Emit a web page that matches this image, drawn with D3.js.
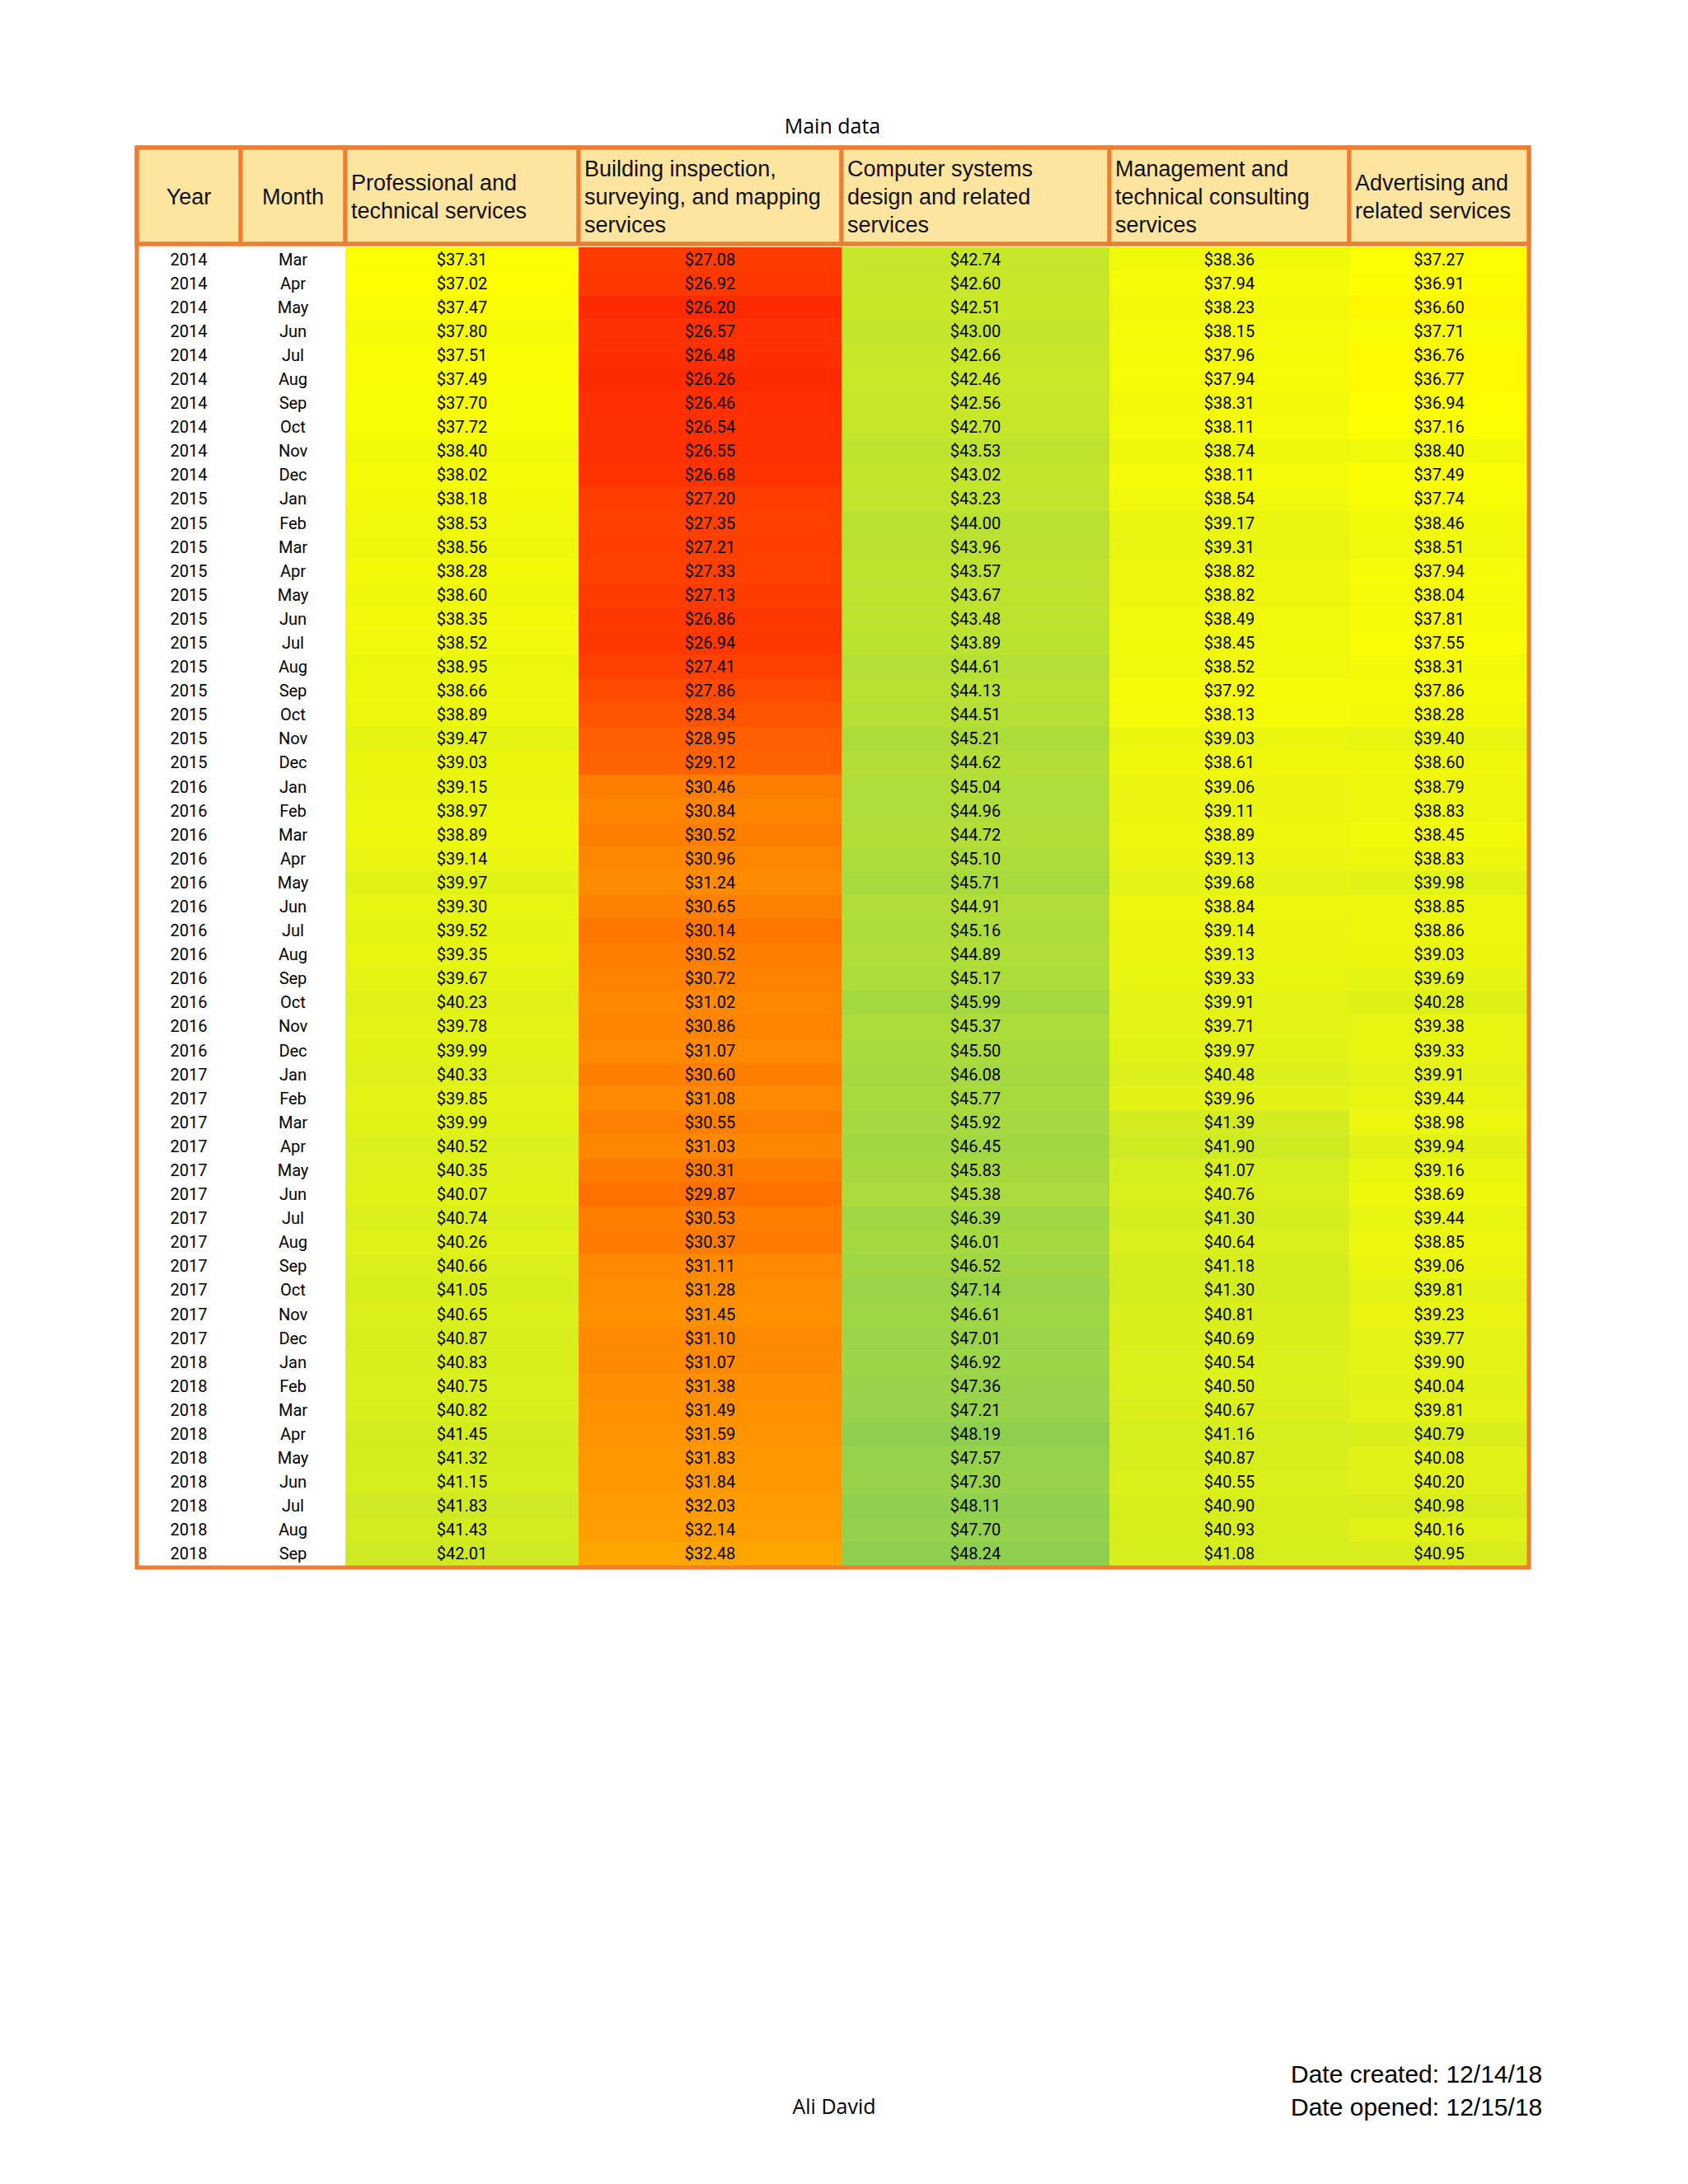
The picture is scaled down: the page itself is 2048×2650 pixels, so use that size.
<!DOCTYPE html><html><head><meta charset="utf-8"><script src="https://cdn.jsdelivr.net/npm/d3@7"></script>
<style>body{margin:0;background:#fff}</style></head><body><svg id="c" width="2048" height="2650"></svg>
<script>
const monthNames=["Jan","Feb","Mar","Apr","May","Jun","Jul","Aug","Sep","Oct","Nov","Dec"];
const years=[2014,2015,2016,2017,2018];
const headers=[["Year"],["Month"],["Professional and","technical services"],["Building inspection,","surveying, and mapping","services"],["Computer systems","design and related","services"],["Management and","technical consulting","services"],["Advertising and","related services"]];
const prof=[37.31,37.02,37.47,37.80,37.51,37.49,37.70,37.72,38.40,38.02,38.18,38.53,38.56,38.28,38.60,38.35,38.52,38.95,38.66,38.89,39.47,39.03,39.15,38.97,38.89,39.14,39.97,39.30,39.52,39.35,39.67,40.23,39.78,39.99,40.33,39.85,39.99,40.52,40.35,40.07,40.74,40.26,40.66,41.05,40.65,40.87,40.83,40.75,40.82,41.45,41.32,41.15,41.83,41.43,42.01];
const build=[27.08,26.92,26.20,26.57,26.48,26.26,26.46,26.54,26.55,26.68,27.20,27.35,27.21,27.33,27.13,26.86,26.94,27.41,27.86,28.34,28.95,29.12,30.46,30.84,30.52,30.96,31.24,30.65,30.14,30.52,30.72,31.02,30.86,31.07,30.60,31.08,30.55,31.03,30.31,29.87,30.53,30.37,31.11,31.28,31.45,31.10,31.07,31.38,31.49,31.59,31.83,31.84,32.03,32.14,32.48];
const comp=[42.74,42.60,42.51,43.00,42.66,42.46,42.56,42.70,43.53,43.02,43.23,44.00,43.96,43.57,43.67,43.48,43.89,44.61,44.13,44.51,45.21,44.62,45.04,44.96,44.72,45.10,45.71,44.91,45.16,44.89,45.17,45.99,45.37,45.50,46.08,45.77,45.92,46.45,45.83,45.38,46.39,46.01,46.52,47.14,46.61,47.01,46.92,47.36,47.21,48.19,47.57,47.30,48.11,47.70,48.24];
const mgmt=[38.36,37.94,38.23,38.15,37.96,37.94,38.31,38.11,38.74,38.11,38.54,39.17,39.31,38.82,38.82,38.49,38.45,38.52,37.92,38.13,39.03,38.61,39.06,39.11,38.89,39.13,39.68,38.84,39.14,39.13,39.33,39.91,39.71,39.97,40.48,39.96,41.39,41.90,41.07,40.76,41.30,40.64,41.18,41.30,40.81,40.69,40.54,40.50,40.67,41.16,40.87,40.55,40.90,40.93,41.08];
const adv=[37.27,36.91,36.60,37.71,36.76,36.77,36.94,37.16,38.40,37.49,37.74,38.46,38.51,37.94,38.04,37.81,37.55,38.31,37.86,38.28,39.40,38.60,38.79,38.83,38.45,38.83,39.98,38.85,38.86,39.03,39.69,40.28,39.38,39.33,39.91,39.44,38.98,39.94,39.16,38.69,39.44,38.85,39.06,39.81,39.23,39.77,39.90,40.04,39.81,40.79,40.08,40.20,40.98,40.16,40.95];
const series=[prof,build,comp,mgmt,adv];
const rows=[];
years.forEach(yr=>monthNames.forEach((m,i)=>{const k=(yr-2014)*12+i; if(k>=2&&k<=56) rows.push({year:yr,month:m});}));
const svg=d3.select("#c");
const colEdges=[166,292,419,702,1021,1346,1637,1855];
const tableTop=179, headBot=296, tableBot=1902;
const y=d3.scaleBand().domain(d3.range(rows.length)).range([headBot+4,tableBot-2]);
const color=d3.scaleLinear().domain([26.2,29.5,32.5,37,48.24]).range(["#ff2a00","#ff6a00","#ffa500","#ffff00","#8fcf50"]);
svg.append("text").attr("x",1010).attr("y",162).attr("text-anchor","middle").attr("font-family","Open Sans, sans-serif").attr("font-size",25).text("Main data");
headers.forEach((h,i)=>{
  const x0=colEdges[i],x1=colEdges[i+1];
  svg.append("rect").attr("x",x0).attr("y",tableTop).attr("width",x1-x0).attr("height",headBot-tableTop).attr("fill","#fde49f").attr("stroke","#ed7d31").attr("stroke-width",5);
  const c=i<2, lh=34, cy=(tableTop+headBot)/2+10-(h.length-1)*lh/2;
  h.forEach((t,j)=>svg.append("text").attr("x",c?(x0+x1)/2:x0+7).attr("y",cy+j*lh).attr("text-anchor",c?"middle":"start").attr("font-family","Liberation Sans, Arial, sans-serif").attr("font-size",27).attr("fill","#111").text(t));
});
series.forEach((s,ci)=>{
  const x0=colEdges[ci+2],x1=colEdges[ci+3];
  svg.append("g").selectAll("rect").data(s).join("rect").attr("x",x0).attr("y",(d,i)=>y(i)).attr("width",x1-x0).attr("height",y.bandwidth()+0.5).attr("fill",d=>color(d));
  svg.append("g").selectAll("text").data(s).join("text").attr("x",(x0+x1)/2).attr("y",(d,i)=>y(i)+y.bandwidth()/2+7).attr("text-anchor","middle").attr("font-family","Liberation Sans Narrow, Roboto, sans-serif").attr("font-size",20).text(d=>"$"+d.toFixed(2));
});
[["year",0],["month",1]].forEach(([k,ci])=>{
  svg.append("g").selectAll("text").data(rows).join("text").attr("x",(colEdges[ci]+colEdges[ci+1])/2).attr("y",(d,i)=>y(i)+y.bandwidth()/2+7).attr("text-anchor","middle").attr("font-family","Liberation Sans Narrow, Roboto, sans-serif").attr("font-size",20).text(d=>d[k]);
});
svg.append("rect").attr("x",colEdges[0]).attr("y",tableTop).attr("width",colEdges[7]-colEdges[0]).attr("height",tableBot-tableTop).attr("fill","none").attr("stroke","#ed7d31").attr("stroke-width",5);
svg.append("line").attr("x1",colEdges[0]).attr("x2",colEdges[7]).attr("y1",headBot).attr("y2",headBot).attr("stroke","#ed7d31").attr("stroke-width",5);
svg.append("text").attr("x",1012).attr("y",2565).attr("text-anchor","middle").attr("font-family","Open Sans, sans-serif").attr("font-size",25).text("Ali David");
svg.append("text").attr("x",1566).attr("y",2527).attr("font-family","Liberation Sans, Arial, sans-serif").attr("font-size",30).text("Date created: 12/14/18");
svg.append("text").attr("x",1566).attr("y",2567).attr("font-family","Liberation Sans, Arial, sans-serif").attr("font-size",30).text("Date opened: 12/15/18");
</script></body></html>
